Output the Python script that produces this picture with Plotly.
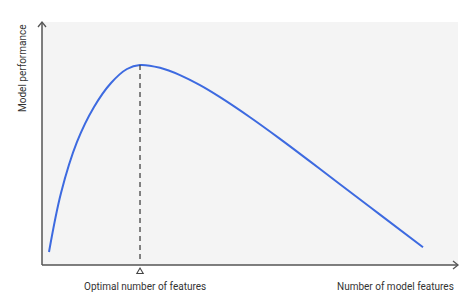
import plotly.graph_objects as go

# Curve data (arbitrary units: x = number of features, y = model performance)
features = [1.68, 4.57, 8.41, 12.50, 16.59, 20.43, 23.56, 28.37, 33.17, 37.98, 42.79, 50.00,
            57.21, 64.42, 71.63, 81.25, 91.59]
performance = [5.35, 29.63, 50.62, 65.02, 74.90, 80.66, 82.30, 81.15, 78.15, 73.99, 69.05, 60.78,
               51.89, 42.63, 33.25, 20.74, 7.28]

optimal_x = 23.56
optimal_y = 82.30

x_title = "Number of model features"
y_title = "Model performance"
opt_label = "Optimal number of features"

axis_color = "#555555"
curve_color = "#3d6ae0"
text_color = "#333333"
font_family = "Roboto"

fig = go.Figure()

fig.add_trace(go.Scatter(
    x=features, y=performance, mode="lines",
    line=dict(color=curve_color, width=2, shape="spline", smoothing=1.0),
    hoverinfo="skip", showlegend=False,
))

# dashed vertical at optimum
fig.add_trace(go.Scatter(
    x=[optimal_x, optimal_x], y=[optimal_y, 1.2], mode="lines",
    line=dict(color="#444444", width=1.3, dash="5px,4px"),
    hoverinfo="skip", showlegend=False,
))

W, H = 474, 296
L, R, T, B = 42, 16, 22, 31
pw, ph = W - L - R, H - T - B

def px(xp):
    return (xp - L) / pw

def py(yp):
    return (H - B - yp) / ph

shapes = []
# axis lines
shapes.append(dict(type="line", xref="paper", yref="paper", x0=0, y0=0, x1=0, y1=1,
                   line=dict(color=axis_color, width=1.5)))
shapes.append(dict(type="line", xref="paper", yref="paper", x0=0, y0=0, x1=1, y1=0,
                   line=dict(color=axis_color, width=1.5)))
# arrow chevrons
shapes.append(dict(type="path", xref="paper", yref="paper",
                   path=f"M {px(38)},{py(27)} L {px(42)},{py(22)} L {px(46)},{py(27)}",
                   line=dict(color=axis_color, width=1.3)))
shapes.append(dict(type="path", xref="paper", yref="paper",
                   path=f"M {px(453)},{py(261)} L {px(458)},{py(265)} L {px(453)},{py(269)}",
                   line=dict(color=axis_color, width=1.3)))
# open triangle below the axis at the optimum
hw = 3.2 / pw * 100
shapes.append(dict(type="path", xref="x", yref="paper",
                   path=f"M {optimal_x - hw},{py(273.5)} L {optimal_x + hw},{py(273.5)} L {optimal_x},{py(268)} Z",
                   line=dict(color="#444444", width=1.1), fillcolor="rgba(0,0,0,0)"))

annotations = [
    dict(text=y_title, xref="paper", yref="paper", x=px(22), y=py(68), textangle=-90,
         showarrow=False, font=dict(size=10, color=text_color, family=font_family),
         xanchor="center", yanchor="middle"),
    dict(text=opt_label, xref="paper", yref="paper", x=px(145), y=py(286),
         showarrow=False, font=dict(size=10, color=text_color, family=font_family),
         xanchor="center", yanchor="middle"),
    dict(text=x_title, xref="paper", yref="paper", x=px(456), y=py(286),
         showarrow=False, font=dict(size=10, color=text_color, family=font_family),
         xanchor="right", yanchor="middle"),
]

fig.update_layout(
    width=W, height=H,
    margin=dict(l=L, r=R, t=T, b=B),
    paper_bgcolor="white", plot_bgcolor="#f4f4f4",
    xaxis=dict(range=[0, 100], showgrid=False, zeroline=False, showticklabels=False, ticks="", fixedrange=True),
    yaxis=dict(range=[0, 100], showgrid=False, zeroline=False, showticklabels=False, ticks="", fixedrange=True),
    shapes=shapes, annotations=annotations,
    showlegend=False,
)

fig.write_html("out.html")
